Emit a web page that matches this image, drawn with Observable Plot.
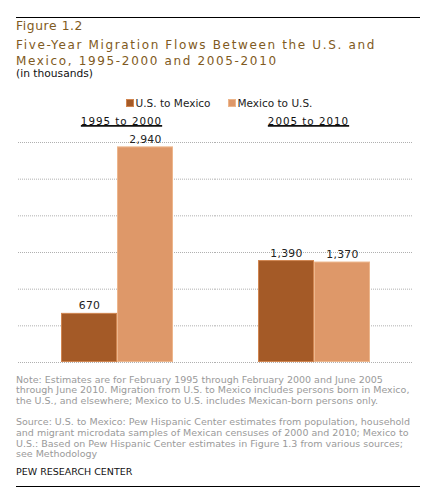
<!DOCTYPE html>
<html>
<head>
<meta charset="utf-8">
<script src="https://cdn.jsdelivr.net/npm/d3@7"></script>
<script src="https://cdn.jsdelivr.net/npm/@observablehq/plot@0.6"></script>
<style>
  html, body { margin: 0; padding: 0; background: #fff; }
  body { width: 426px; height: 502px; position: relative; overflow: hidden; font-family: "DejaVu Sans", Verdana, sans-serif; }
  .abs { position: absolute; }
  .rule { left: 16px; width: 404px; border-top: 1.5px solid #000; height: 0; }
  .fig { left: 16px; top: 19px; font-size: 12.3px; line-height: 15px; color: #7f5a22; letter-spacing: 0.6px; }
  .title { left: 16px; top: 37px; font-size: 12px; line-height: 16px; color: #7f5a22; letter-spacing: 1.65px; white-space: nowrap; }
  .sub { left: 16px; top: 68px; font-size: 10.7px; line-height: 12px; color: #111; }
  .legend { left: 6px; width: 426px; top: 97px; font-size: 10.5px; line-height: 12px; color: #222; display: flex; justify-content: center; }
  .legend span.item { display: inline-flex; align-items: center; }
  .legend span.sw { width: 6px; height: 6px; display: inline-block; margin-right: 2px; border: 0.75px solid; }
  #chart { left: 0; top: 110px; }
  .note { left: 16px; top: 374.6px; width: 410px; font-size: 9.5px; line-height: 10.8px; color: #9a9a9a; white-space: nowrap; }
  .pew { left: 16px; top: 467px; font-size: 9.5px; line-height: 10.8px; color: #111; }
</style>
</head>
<body>
<div class="abs rule" style="top:16.5px"></div>
<div class="abs fig">Figure 1.2</div>
<div class="abs title">Five-Year Migration Flows Between the U.S. and<br>Mexico, 1995-2000 and 2005-2010</div>
<div class="abs sub">(in thousands)</div>
<div class="abs legend" id="legend"></div>
<div class="abs" id="chart"></div>
<div class="abs note">Note: Estimates are for February 1995 through February 2000 and June 2005<br>through June 2010. Migration from U.S. to Mexico includes persons born in Mexico,<br>the U.S., and elsewhere; Mexico to U.S. includes Mexican-born persons only.</div>
<div class="abs note" style="top:417px">Source: U.S. to Mexico: Pew Hispanic Center estimates from population, household<br>and migrant microdata samples of Mexican censuses of 2000 and 2010; Mexico to<br>U.S.: Based on Pew Hispanic Center estimates in Figure 1.3 from various sources;<br>see Methodology</div>
<div class="abs pew">PEW RESEARCH CENTER</div>
<div class="abs rule" style="top:485.5px"></div>
<script>
const periods = ["1995 to 2000", "2005 to 2010"];
const series = ["U.S. to Mexico", "Mexico to U.S."];
const usToMexico = [670, 1390];
const mexicoToUS = [2940, 1370];
const yTicks = [0, 500, 1000, 1500, 2000, 2500, 3000];
const fillColors = ["#A45A27", "#DE9869"];
const strokeColors = ["#D08550", "#EDB68C"];

const rows = [];
periods.forEach((p, i) => {
  rows.push({period: p, series: series[0], value: usToMexico[i]});
  rows.push({period: p, series: series[1], value: mexicoToUS[i]});
});
const fmt = d3.format(",");

// legend
const legend = document.getElementById("legend");
series.forEach((s, i) => {
  const item = document.createElement("span");
  item.className = "item";
  item.style.marginRight = i === 0 ? "17px" : "0";
  const sw = document.createElement("span");
  sw.className = "sw";
  sw.style.background = fillColors[i];
  sw.style.borderColor = strokeColors[i];
  item.appendChild(sw);
  item.appendChild(document.createTextNode(s));
  legend.appendChild(item);
});

const periodLabelOpts = {fx: d => d, text: d => d, frameAnchor: "top", lineAnchor: "bottom", dy: -18, fill: "#111", fontSize: 10.3};

const chart = Plot.plot({
  width: 426,
  height: 260,
  marginTop: 32,
  marginBottom: 8,
  marginLeft: 19,
  marginRight: 13,
  fx: {domain: periods, paddingInner: 0.431, paddingOuter: 0.2155, axis: null},
  x: {domain: series, padding: 0, axis: null},
  y: {domain: [0, 3000], axis: null},
  style: {fontFamily: "DejaVu Sans", fontSize: "10.5px", color: "#222", background: "transparent"},
  marks: [
    Plot.ruleY(yTicks, {y: d => d, stroke: "#b0b0b0", strokeWidth: 1, strokeDasharray: "1,1", insetLeft: -43, insetRight: -43}),
    Plot.barY(rows.filter(d => d.series === series[0]), {fx: "period", x: "series", y: "value", fill: fillColors[0], stroke: strokeColors[0], strokeWidth: 1, inset: 0.5}),
    Plot.barY(rows.filter(d => d.series === series[1]), {fx: "period", x: "series", y: "value", fill: fillColors[1], stroke: strokeColors[1], strokeWidth: 1, inset: 0.5}),
    Plot.text(rows, {fx: "period", x: "series", y: "value", text: d => fmt(d.value), lineAnchor: "bottom", dy: -4, fill: "#222", fontSize: 10.8}),
    Plot.text([periods[0]], {...periodLabelOpts, dx: 4}),
    Plot.text([periods[1]], {...periodLabelOpts, dx: -6})
  ]
});
document.getElementById("chart").appendChild(chart);
// underline the period labels, measured from their rendered text
Array.from(chart.querySelectorAll("text")).forEach(t => {
  const s = t.textContent;
  if (!periods.includes(s)) { t.style.letterSpacing = "0.3px"; return; }
  t.style.letterSpacing = "1px";
  const b = t.getBBox();
  const line = document.createElementNS("http://www.w3.org/2000/svg", "line");
  line.setAttribute("x1", b.x);
  line.setAttribute("x2", b.x + b.width);
  const yy = b.y + b.height - 0.7;
  line.setAttribute("y1", yy);
  line.setAttribute("y2", yy);
  line.setAttribute("stroke", "#111");
  line.setAttribute("stroke-width", 1.8);
  if (t.getAttribute("transform")) line.setAttribute("transform", t.getAttribute("transform"));
  t.parentNode.appendChild(line);
});
</script>
</body>
</html>
